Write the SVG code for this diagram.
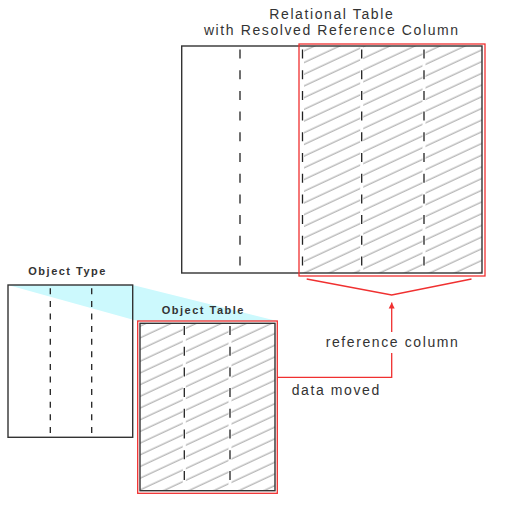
<svg xmlns="http://www.w3.org/2000/svg" width="528" height="509" viewBox="0 0 528 509">
<defs>
<pattern id="hatch" patternUnits="userSpaceOnUse" width="20" height="10.6" patternTransform="rotate(-25)">
<line x1="0" y1="5" x2="20" y2="5" stroke="#a4a4a4" stroke-width="1.1"/>
</pattern>
<marker id="arrow" viewBox="0 0 10 10" refX="10" refY="5" markerWidth="6" markerHeight="13" markerUnits="userSpaceOnUse" orient="auto">
<path d="M0,0 L10,5 L0,10 Z" fill="#f03030"/>
</marker>
</defs>
<style>
.box{fill:none;stroke:#333;stroke-width:1.4}
.red{fill:none;stroke:#f03030;stroke-width:1.3}
.dash{stroke:#222;stroke-width:1.3;stroke-dasharray:9 11.7}
.dashs{stroke:#222;stroke-width:1.3;stroke-dasharray:6 6.6}
.gap{stroke:#fff;stroke-width:3}
.lbl{font-family:"Liberation Sans",Arial,sans-serif;font-size:14px;letter-spacing:1.6px;fill:#333}
.hd{font-family:"Liberation Sans",Arial,sans-serif;font-size:11px;font-weight:bold;letter-spacing:1.5px;fill:#333}
.conn{fill:none;stroke:#f03030;stroke-width:1.3}
</style>
<rect width="528" height="509" fill="#fff"/>

<g id="relational-table">
<text class="lbl" x="331.8" y="19" text-anchor="middle">Relational Table</text>
<text class="lbl" x="331.8" y="35" text-anchor="middle">with Resolved Reference Column</text>
<rect x="302" y="46" width="180" height="227" fill="url(#hatch)"/>
<line class="gap" x1="302.5" y1="47" x2="302.5" y2="272"/>
<line class="gap" x1="361.7" y1="47" x2="361.7" y2="272"/>
<line class="gap" x1="424" y1="47" x2="424" y2="272"/>
<rect class="box" x="181.7" y="46" width="300.3" height="227"/>
<line class="dash" x1="240" y1="49.5" x2="240" y2="272"/>
<line class="dash" x1="302.5" y1="49.5" x2="302.5" y2="272"/>
<line class="dash" x1="361.7" y1="49.5" x2="361.7" y2="272"/>
<line class="dash" x1="424" y1="49.5" x2="424" y2="272"/>
<rect class="red" x="299" y="44" width="186" height="232"/>
</g>

<g id="object-type">
<polygon points="8,285 132.7,285 277,321 137.7,321" fill="#ccf9fd"/>
<text class="hd" x="28.3" y="275">Object Type</text>
<rect class="box" x="8" y="285" width="124.7" height="152.3"/>
<line class="dashs" x1="50.3" y1="288.3" x2="50.3" y2="435"/>
<line class="dashs" x1="91.7" y1="288.3" x2="91.7" y2="435"/>
</g>

<g id="object-table">
<text class="hd" x="161.7" y="314">Object Table</text>
<rect x="140" y="323.3" width="135" height="167.4" fill="url(#hatch)"/>
<line class="gap" x1="184.3" y1="324" x2="184.3" y2="490"/>
<line class="gap" x1="230" y1="324" x2="230" y2="490"/>
<rect class="box" x="140" y="323.3" width="135" height="167.4"/>
<line class="dash" x1="184.3" y1="326" x2="184.3" y2="490"/>
<line class="dash" x1="230" y1="326" x2="230" y2="490"/>
<rect class="red" x="137.7" y="321" width="139.6" height="172.3"/>
</g>

<g id="connectors">
<polyline class="conn" points="306.7,279 391.7,295 471.5,279"/>
<polyline class="conn" points="277.3,377.3 391.7,377.3 391.7,353"/>
<line class="conn" x1="391.7" y1="332" x2="391.7" y2="302.5" marker-end="url(#arrow)"/>
<text class="lbl" x="325.7" y="347.3">reference column</text>
<text class="lbl" x="291.7" y="395">data moved</text>
</g>
</svg>
